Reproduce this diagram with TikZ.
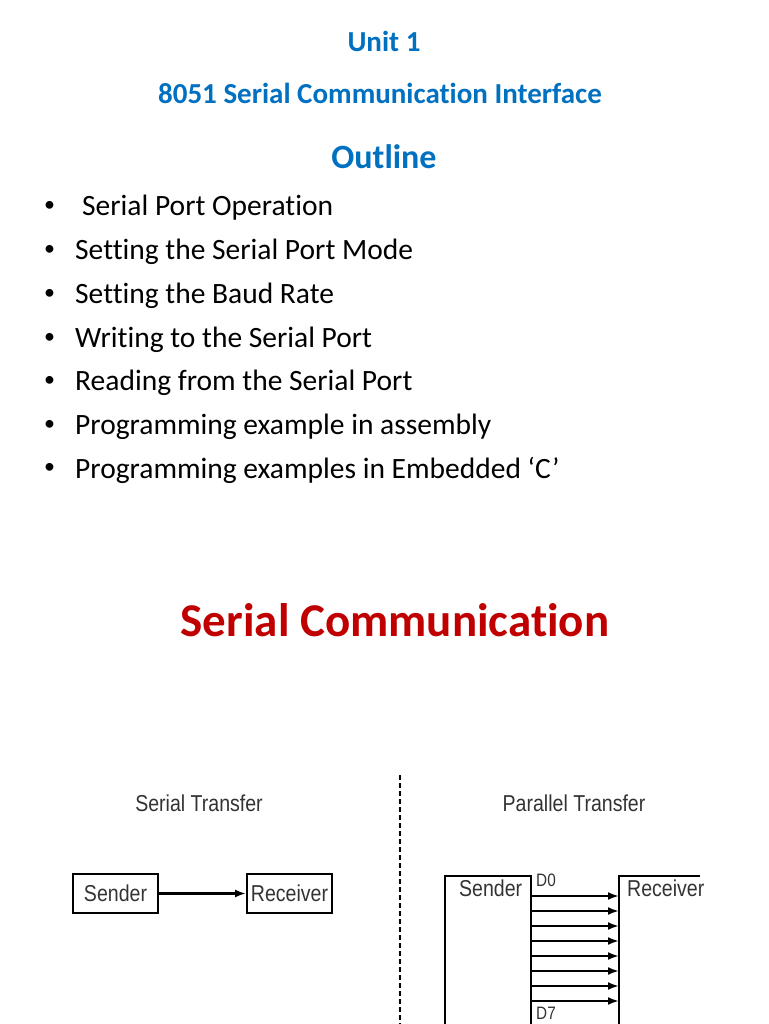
\documentclass[tikz,border=0pt]{standalone}
\usepackage{fontspec}
\setmainfont{Carlito}[RawFeature={-liga;-clig;-dlig}]
\newfontfamily\arial{Liberation Sans}[FakeStretch=0.85]
\usetikzlibrary{arrows.meta}
\definecolor{hblue}{RGB}{0,112,192}
\definecolor{hred}{RGB}{192,0,0}
\begin{document}
\begin{tikzpicture}[x=1pt,y=-1pt,
  head/.style={text=hblue,font=\bfseries\fontsize{29}{34}\selectfont},
  item/.style={anchor=west,font=\fontsize{29.5}{34}\selectfont,inner sep=0pt},
  dlab/.style={font=\arial\fontsize{23}{27}\selectfont,text=black!80,inner sep=0pt},
  box/.style={draw,line width=1.8pt},
  arr/.style={-{Latex[length=11pt,width=8pt]},line width=2.2pt}]
\useasboundingbox (0,0) rectangle (768,1024);
\node[head] (u) at (384,41) {Unit 1};
\node[head] (t) at (380,93) {8051 Serial Communication Interface};
\node[head,font=\bfseries\fontsize{34}{40}\selectfont] (o) at (384,157) {Outline};
\foreach \y/\x/\t [count=\i] in {208/82/Serial Port Operation,252/75/Setting the Serial Port Mode,296/75/Setting the Baud Rate,340/75/Writing to the Serial Port,383/75/Reading from the Serial Port,427/75/Programming example in assembly,470/75/Programming examples in Embedded ‘C’}{
  \node[item,font=\fontsize{22}{26}\selectfont] (b\i) at (44,\y-2) {•};
  \node[item] (l\i) at (\x,\y) {\t};
}
\node[text=hred,font=\bfseries\fontsize{47}{54}\selectfont] (sc) at (395,620) {Serial Communication};
\draw[line width=2pt,dash pattern=on 5pt off 3pt] (400,775) -- (400,1024);
\node[dlab] (st) at (199,803) {Serial Transfer};
\node[dlab] (pt) at (574,803) {Parallel Transfer};
\node[box,dlab,minimum width=85pt,minimum height=39pt,inner sep=0pt] (s1) at (115.5,893.5) {Sender};
\node[box,dlab,minimum width=85pt,minimum height=39pt,inner sep=0pt] (r1) at (289.5,893.5) {Receiver};
\draw[arr] (s1) -- (r1);
\draw[box] (445,1030) -- (445,876) -- (531,876) -- (531,1030);
\draw[box] (619,1030) -- (619,876) -- (700,876);
\node[dlab,anchor=north west] (ps) at (459,880) {Sender};
\node[dlab,anchor=north west] (pr) at (627,880) {Receiver};
\node[dlab,font=\arial\fontsize{18}{20}\selectfont,anchor=south west] (d0) at (536,887) {D0};
\node[dlab,font=\arial\fontsize{18}{20}\selectfont,anchor=north west] (d7) at (536,1007) {D7};
\foreach \y [count=\i] in {896,911,926,941,956,971,986,1001}{
  \coordinate (a\i) at (531,\y); \coordinate (e\i) at (619,\y);
  \draw[arr] (a\i) -- (e\i);
}
\end{tikzpicture}
\end{document}
